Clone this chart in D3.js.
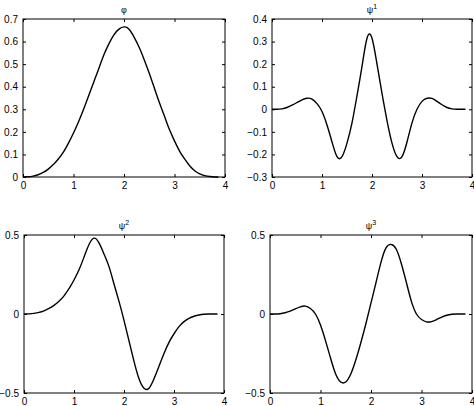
<!DOCTYPE html>
<html><head><meta charset="utf-8">
<script src="https://cdn.jsdelivr.net/npm/d3@7"></script>
<style>body{margin:0;background:#fff}svg{display:block}text{font-family:"Liberation Sans",Arial,sans-serif}</style>
</head><body><svg id="c" width="474" height="406"></svg>
<script>
const xs = [0,0.1,0.2,0.3,0.4,0.5,0.6,0.7,0.8,0.9,1.0,1.1,1.2,1.3,1.4,1.5,1.6,1.7,1.8,1.9,2.0,2.1,2.2,2.3,2.4,2.5,2.6,2.7,2.8,2.9,3.0,3.1,3.2,3.3,3.4,3.5,3.6,3.7,3.8,3.87];
const phi = [0,0.001,0.004,0.01,0.02,0.035,0.055,0.08,0.11,0.15,0.195,0.245,0.3,0.36,0.42,0.48,0.54,0.59,0.63,0.655,0.665,0.655,0.62,0.575,0.52,0.46,0.395,0.33,0.27,0.21,0.16,0.115,0.08,0.05,0.028,0.014,0.006,0.002,0,0];
const psi1 = [0,0,0.002,0.008,0.018,0.03,0.042,0.049,0.045,0.025,-0.01,-0.07,-0.145,-0.21,-0.21,-0.15,-0.06,0.06,0.19,0.315,0.315,0.2,0.07,-0.05,-0.15,-0.21,-0.21,-0.145,-0.06,0.0,0.035,0.049,0.048,0.035,0.02,0.008,0.002,0,0,0];
const psi2 = [0,0.001,0.004,0.01,0.02,0.035,0.055,0.08,0.115,0.16,0.215,0.28,0.36,0.44,0.48,0.45,0.38,0.3,0.19,0.08,-0.04,-0.17,-0.3,-0.41,-0.47,-0.47,-0.41,-0.33,-0.25,-0.18,-0.125,-0.08,-0.048,-0.027,-0.014,-0.006,-0.002,0,0,0];
const psi3 = [0,0,0.002,0.008,0.018,0.032,0.045,0.05,0.035,0.0,-0.07,-0.17,-0.28,-0.38,-0.43,-0.43,-0.38,-0.29,-0.18,-0.06,0.07,0.2,0.33,0.42,0.44,0.41,0.32,0.2,0.08,0.0,-0.035,-0.05,-0.048,-0.035,-0.02,-0.008,-0.002,0,0,0];
const xTicks = [0,1,2,3,4];
const panels = [
  {title:"φ", sup:"", ys:phi, dom:[0,0.7], ticks:[0,0.1,0.2,0.3,0.4,0.5,0.6,0.7], box:[23,19,225,177]},
  {title:"ψ", sup:"1", ys:psi1, dom:[-0.3,0.4], ticks:[-0.3,-0.2,-0.1,0,0.1,0.2,0.3,0.4], box:[272,19,472,177]},
  {title:"ψ", sup:"2", ys:psi2, dom:[-0.5,0.5], ticks:[-0.5,0,0.5], box:[24,235,224,393]},
  {title:"ψ", sup:"3", ys:psi3, dom:[-0.5,0.5], ticks:[-0.5,0,0.5], box:[270,235,472,393]}
];
const svg = d3.select("#c");
const fmt = v => (v<0?"\u2212":"") + (Math.abs(v)<1e-9?"0":String(+Math.abs(v).toFixed(1)));
panels.forEach(p=>{
  const [x0,y0,x1,y1]=p.box;
  const x=d3.scaleLinear().domain([0,4]).range([x0,x1]);
  const y=d3.scaleLinear().domain(p.dom).range([y1,y0]);
  const g=svg.append("g");
  const ax=(gen,tr)=>g.append("g").attr("transform",tr).call(gen)
     .call(s=>s.select(".domain").remove());
  ax(d3.axisBottom(x).tickValues(xTicks).tickSizeInner(-3).tickSizeOuter(0).tickPadding(5).tickFormat(d3.format("d")),`translate(0,${y1})`);
  ax(d3.axisTop(x).tickValues(xTicks).tickSizeInner(-3).tickSizeOuter(0).tickFormat(""),`translate(0,${y0})`);
  ax(d3.axisLeft(y).tickValues(p.ticks).tickSizeInner(-3).tickSizeOuter(0).tickPadding(5).tickFormat(fmt),`translate(${x0},0)`);
  ax(d3.axisRight(y).tickValues(p.ticks).tickSizeInner(-3).tickSizeOuter(0).tickFormat(""),`translate(${x1},0)`);
  g.selectAll("text").attr("font-size",10).attr("fill","#000").attr("font-family","Liberation Sans, Arial, sans-serif");
  g.selectAll(".tick line").attr("stroke","#000");
  g.append("rect").attr("x",x0).attr("y",y0).attr("width",x1-x0).attr("height",y1-y0)
    .attr("fill","none").attr("stroke","#000").attr("stroke-width",1);
  g.append("path").datum(xs.map((v,i)=>[v,p.ys[i]]))
    .attr("d",d3.line().x(d=>x(d[0])).y(d=>y(d[1])).curve(d3.curveNatural))
    .attr("fill","none").attr("stroke","#000").attr("stroke-width",1.4);
  const t=g.append("text").attr("x",(x0+x1)/2).attr("y",y0-6).attr("text-anchor","middle")
    .attr("font-size",9).attr("fill","#000").attr("font-family","DejaVu Sans, sans-serif");
  t.append("tspan").attr("fill","#000").text(p.title);
  if(p.sup) t.append("tspan").attr("fill","#000").attr("dy",-4).attr("font-size",7).text(p.sup);
});
</script></body></html>
